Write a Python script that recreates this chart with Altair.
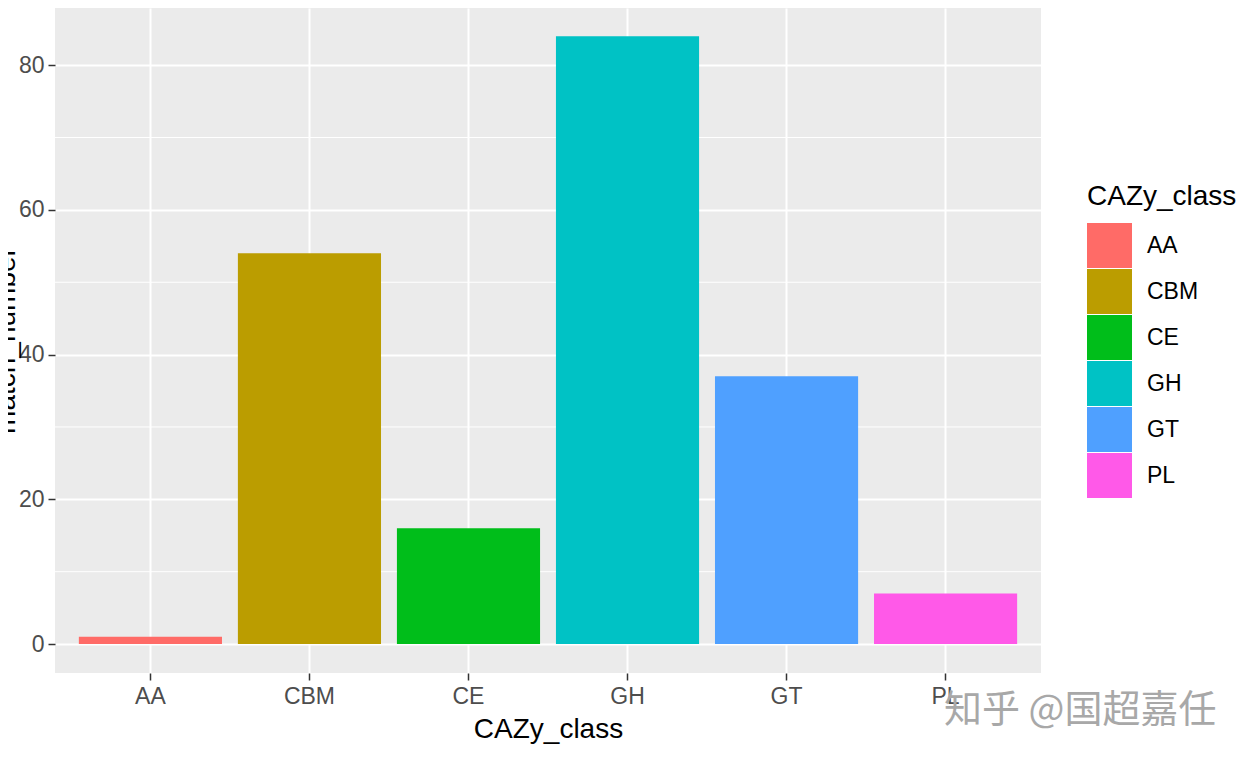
import altair as alt
import pandas as pd

classes = ["AA", "CBM", "CE", "GH", "GT", "PL"]
counts = [1, 54, 16, 84, 37, 7]
colors = ["#FF6B67", "#BB9D00", "#00BE1A", "#00C2C5", "#4FA0FF", "#FF59E8"]
y_ticks = [0, 20, 40, 60, 80]
minor_ticks = [10, 30, 50, 70]
watermark = "知乎 @国超嘉任"

FONT = "Liberation Sans"

df = pd.DataFrame({"CAZy_class": classes, "match_number": counts})
minor_df = pd.DataFrame({"v": minor_ticks})
wm_df = pd.DataFrame({"t": [watermark]})

yscale = alt.Scale(domain=[-4.0, 87.9], nice=False, zero=False)

yaxis = alt.Axis(
    title="match_number",
    values=y_ticks,
    grid=True,
    gridColor="white",
    gridWidth=2,
    domain=False,
    tickColor="#333333",
    tickSize=7,
    tickWidth=1.5,
    labelFont=FONT,
    labelFontSize=23,
    labelColor="#4D4D4D",
    labelPadding=4,
    titleFont=FONT,
    titleFontSize=28,
    titleFontWeight="normal",
    titleColor="#000000",
    titleAngle=-90,
    titleX=-41,
    titleY=332,
    titleAlign="center",
    titleBaseline="alphabetic",
)

minor = alt.Chart(minor_df).mark_rule(color="white", strokeWidth=1).encode(
    y=alt.Y("v:Q", scale=yscale, axis=yaxis)
)

bars = alt.Chart(df).mark_bar().encode(
    x=alt.X(
        "CAZy_class:N",
        sort=classes,
        scale=alt.Scale(paddingInner=0.1, paddingOuter=0.15),
        axis=alt.Axis(
            title="CAZy_class",
            labelAngle=0,
            grid=True,
            gridColor="white",
            gridWidth=2,
            domain=False,
            tickColor="#333333",
            tickSize=7,
            tickWidth=1.5,
            labelFont=FONT,
            labelFontSize=23,
            labelColor="#4D4D4D",
            labelPadding=5,
            titleFont=FONT,
            titleFontSize=28,
            titleFontWeight="normal",
            titleColor="#000000",
            titlePadding=7,
        ),
    ),
    y=alt.Y("match_number:Q", scale=yscale, axis=yaxis),
    y2=alt.datum(0),
    color=alt.Color(
        "CAZy_class:N",
        scale=alt.Scale(domain=classes, range=colors),
        legend=alt.Legend(
            title="CAZy_class",
            orient="none",
            legendX=1032,
            legendY=175,
            symbolType="square",
            symbolSize=2025,
            symbolStrokeWidth=0,
            symbolOpacity=1,
            rowPadding=1,
            labelOffset=15,
            padding=0,
            titleFont=FONT,
            titleFontSize=28,
            titleFontWeight="normal",
            titleColor="#000000",
            titlePadding=12,
            labelFont=FONT,
            labelFontSize=23,
            labelColor="#000000",
        ),
    ),
)

wm = alt.Chart(wm_df).mark_text(
    align="left",
    baseline="middle",
    font="Noto Sans CJK SC",
    fontSize=38,
    color="#A8A8A8",
).encode(text="t:N", x=alt.value(889), y=alt.value(703))

chart = (
    alt.layer(minor, bars, wm)
    .properties(
        width=986,
        height=665,
        padding={"left": 47, "top": 0, "right": 197, "bottom": 77},
        autosize=alt.AutoSizeParams(type="none"),
        background="white",
    )
    .configure_view(fill="#EBEBEB", strokeWidth=0)
)

chart.save("out.html", embed_options={"renderer": "svg", "actions": False})
